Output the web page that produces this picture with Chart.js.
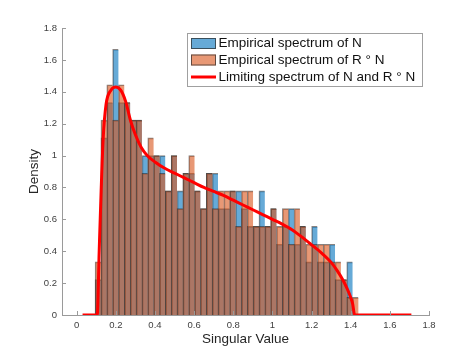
<!DOCTYPE html>
<html><head><meta charset="utf-8">
<script src="https://cdn.jsdelivr.net/npm/chart.js@4.4.0/dist/chart.umd.min.js"></script>
<style>html,body{margin:0;padding:0;background:#fff;}#wrap{width:474px;height:355px;position:relative;}</style>
</head><body><div id="wrap"><canvas id="c" width="474" height="355"></canvas></div>
<script>
// Histogram bin centres (singular value)
const binCenters = [0.1090,0.1389,0.1688,0.1987,0.2286,0.2585,0.2884,0.3183,0.3482,0.3781,
  0.4080,0.4379,0.4678,0.4977,0.5276,0.5575,0.5874,0.6173,0.6472,0.6771,
  0.7070,0.7369,0.7668,0.7967,0.8266,0.8565,0.8864,0.9163,0.9462,0.9761,
  1.0060,1.0359,1.0658,1.0957,1.1256,1.1555,1.1854,1.2153,1.2452,1.2751,
  1.3050,1.3349,1.3648,1.3947,1.4246];
// Empirical spectrum of N (density)
const densityN = [0.222,1.111,1.333,1.667,1.333,1.333,1.222,1.222,1.000,1.000,
  1.000,1.000,0.778,1.000,0.778,0.889,0.889,0.778,0.667,0.889,
  0.889,0.667,0.667,0.778,0.778,0.667,0.556,0.556,0.778,0.556,
  0.667,0.444,0.556,0.667,0.444,0.556,0.333,0.556,0.333,0.333,
  0.444,0.222,0.222,0.333,0];
// Empirical spectrum of R ∘ N (density)
const densityRN = [0.333,1.222,1.444,1.222,1.444,1.333,1.222,1.222,0.889,1.111,
  1.000,0.889,0.778,1.000,0.667,0.889,1.000,0.778,0.667,0.889,
  0.667,0.778,0.778,0.778,0.556,0.778,0.778,0.556,0.556,0.556,
  0.667,0.556,0.667,0.444,0.667,0.556,0.444,0.444,0.444,0.444,
  0.333,0.333,0.222,0.111,0.111];
// Limiting spectrum curve
const limitX = [0.03,0.10,0.105,0.115,0.125,0.135,0.15,0.175,0.2,0.225,0.25,0.275,0.3,0.33,0.36,0.4,0.45,0.5,0.55,0.6,0.65,0.7,0.75,0.8,0.85,0.9,0.95,1.0,1.05,1.1,1.15,1.2,1.25,1.3,1.33,1.36,1.38,1.4,1.41,1.42,1.71];
const limitY = [0,0,0,0.4,0.78,1.1,1.32,1.41,1.43,1.41,1.34,1.22,1.13,1.05,1.0,0.96,0.92,0.89,0.86,0.83,0.8,0.775,0.75,0.72,0.69,0.66,0.63,0.6,0.57,0.535,0.49,0.44,0.39,0.33,0.28,0.22,0.17,0.11,0.07,0,0];
const xTicks = [0,0.2,0.4,0.6,0.8,1,1.2,1.4,1.6,1.8];
const xTickLabels = ['0','0.2','0.4','0.6','0.8','1','1.2','1.4','1.6','1.8'];
const yTicks = [0,0.2,0.4,0.6,0.8,1,1.2,1.4,1.6,1.8];
const yTickLabels = ['0','0.2','0.4','0.6','0.8','1','1.2','1.4','1.6','1.8'];
const seriesLabels = ['Empirical spectrum of N','Empirical spectrum of R \u00b0 N','Limiting spectrum of N and R \u00b0 N'];

const BLUE = 'rgba(0,114,189,0.6)';
const ORANGE = 'rgba(217,83,25,0.6)';
const EDGE = 'rgba(40,30,25,0.55)';
const RED = '#ff0000';
const AXIS = '#9a9a9a';
const FONT = '"Liberation Sans", Arial, Helvetica, sans-serif';
Chart.defaults.font.family = FONT;

const decor = {
  id: 'decor',
  afterDraw(chart) {
    const {ctx, chartArea: ca, scales: {x, y}} = chart;
    ctx.save();
    ctx.strokeStyle = AXIS; ctx.lineWidth = 1;
    ctx.beginPath();
    xTicks.forEach(v => { const px = Math.round(x.getPixelForValue(v)) + 0.5; ctx.moveTo(px, ca.bottom); ctx.lineTo(px, ca.bottom - 4); });
    yTicks.forEach(v => { const py = Math.round(y.getPixelForValue(v)) + 0.5; ctx.moveTo(ca.left, py); ctx.lineTo(ca.left + 4, py); });
    ctx.stroke();
    // legend
    const lx = 187.5, ly = 33.5, lw = 235, lh = 53;
    ctx.fillStyle = '#fff'; ctx.fillRect(lx, ly, lw, lh);
    ctx.strokeStyle = '#a0a0a0'; ctx.strokeRect(lx, ly, lw, lh);
    const rows = [43.5, 60, 77];
    const sw = [BLUE, ORANGE];
    for (let i = 0; i < 2; i++) {
      ctx.fillStyle = sw[i];
      ctx.fillRect(191, rows[i] - 5.5, 25, 11);
      ctx.strokeStyle = 'rgba(40,40,40,0.7)';
      ctx.strokeRect(191.5, rows[i] - 5, 24, 10);
    }
    ctx.strokeStyle = RED; ctx.lineWidth = 3;
    ctx.beginPath(); ctx.moveTo(191, rows[2]); ctx.lineTo(216, rows[2]); ctx.stroke();
    ctx.fillStyle = '#111'; ctx.font = '13.5px ' + FONT; ctx.textBaseline = 'middle'; ctx.textAlign = 'left';
    seriesLabels.forEach((t, i) => ctx.fillText(t, 218.5, rows[i]));
    ctx.restore();
  }
};

new Chart(document.getElementById('c'), {
  type: 'bar',
  data: {
    datasets: [
      { type: 'line', label: seriesLabels[2], data: limitX.map((v, i) => ({x: v, y: limitY[i]})),
        borderColor: RED, borderWidth: 3, pointRadius: 0, cubicInterpolationMode: 'monotone', fill: false, order: 0 },
      { label: seriesLabels[1], data: binCenters.map((v, i) => ({x: v, y: densityRN[i]})),
        backgroundColor: ORANGE, borderColor: EDGE, borderWidth: {left: 1, top: 1, right: 0, bottom: 0}, borderSkipped: false,
        barPercentage: 1, categoryPercentage: 1, grouped: false, order: 1 },
      { label: seriesLabels[0], data: binCenters.map((v, i) => ({x: v, y: densityN[i]})),
        backgroundColor: BLUE, borderColor: EDGE, borderWidth: {left: 1, top: 1, right: 0, bottom: 0}, borderSkipped: false,
        barPercentage: 1, categoryPercentage: 1, grouped: false, order: 2 }
    ]
  },
  options: {
    responsive: false, animation: false, devicePixelRatio: 1,
    layout: { padding: {top: 28, right: 45, left: 0, bottom: 0} },
    plugins: { legend: {display: false}, tooltip: {enabled: false} },
    scales: {
      x: { type: 'linear', min: -0.075, max: 1.8, offset: false,
        grid: {display: false, drawTicks: false, offset: false}, border: {display: true, color: AXIS},
        afterBuildTicks: s => { s.ticks = xTicks.map(v => ({value: v})); },
        afterFit: s => { s.height = 40; },
        ticks: {padding: 5, color: '#404040', font: {size: 9.5}, maxRotation: 0, autoSkip: false, callback: (v, i) => xTickLabels[i]},
        title: {display: true, text: 'Singular Value', color: '#262626', font: {size: 13.5}, padding: {top: 0, bottom: 8}} },
      y: { type: 'linear', min: 0, max: 1.8,
        grid: {display: false, drawTicks: false}, border: {display: true, color: AXIS},
        afterBuildTicks: s => { s.ticks = yTicks.map(v => ({value: v})); },
        afterFit: s => { s.width = 62; },
        ticks: {padding: 5, color: '#404040', font: {size: 9.5}, autoSkip: false, callback: (v, i) => yTickLabels[i]},
        title: {display: true, text: 'Density', color: '#262626', font: {size: 13.5}, padding: {top: 26, bottom: 0}} }
    }
  },
  plugins: [decor]
});
</script></body></html>
